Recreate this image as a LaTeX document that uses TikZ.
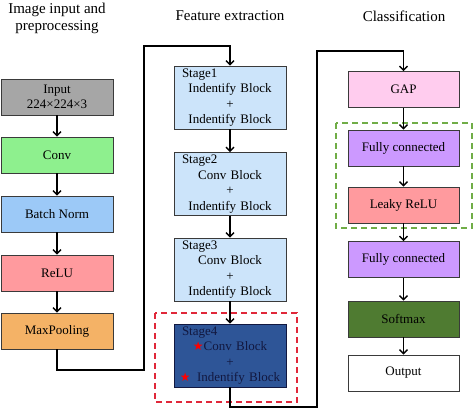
\documentclass[tikz,border=0pt]{standalone}
\usepackage{fontspec}
\setmainfont{Liberation Serif}
\newfontfamily\starfont{DejaVu Sans}
\usetikzlibrary{arrows.meta,positioning}

\definecolor{inputgray}{HTML}{A6A6A6}
\definecolor{convgreen}{HTML}{8EF08E}
\definecolor{normblue}{HTML}{9CC9F7}
\definecolor{relupink}{HTML}{FF9A9E}
\definecolor{poolorange}{HTML}{F4B266}
\definecolor{stageblue}{HTML}{CCE4FA}
\definecolor{darkblue}{HTML}{2E5597}
\definecolor{navytext}{HTML}{121840}
\definecolor{gappink}{HTML}{FFCCEE}
\definecolor{fcpurple}{HTML}{CC99FF}
\definecolor{softgreen}{HTML}{4F7B31}
\definecolor{boxedge}{HTML}{3A3A3A}
\definecolor{dashred}{HTML}{E0283A}
\definecolor{dashgreen}{HTML}{70AD47}

\newcommand{\redstar}{{\starfont\color{red}\fontsize{12}{12}\selectfont ★}}

\tikzstyle{layernode}=[rectangle,
                       draw=boxedge,
                       line width=0.8pt,
                       minimum width=112pt,
                       minimum height=36pt,
                       inner sep=0pt,
                       align=center,
                       font=\fontsize{13}{15.5}\selectfont]
\tikzstyle{stagenode}=[layernode,
                       fill=stageblue,
                       minimum height=63pt,
                       text width=96pt,
                       inner xsep=8pt]
\tikzstyle{headnode}=[align=center,
                      font=\fontsize{15}{17}\selectfont]
\tikzstyle{flow}=[line width=1.4pt,
                  -{Straight Barb[length=4pt,width=8pt]}]

\begin{document}
\begin{tikzpicture}[x=1pt,y=-1pt]
    \useasboundingbox (0,0) rectangle (474,411);
    % headings
    \node [headnode] (hpre) at (57,18) {Image input and\\preprocessing};
    \node [headnode] (hfeat) at (230,16) {Feature extraction};
    \node [headnode] (hcls) at (404,16) {Classification};

    % image input and preprocessing
    \node [layernode, fill=inputgray] (in) at (57,97) {Input\\224×224×3};
    \node [layernode, fill=convgreen] (conv) at (57,155) {Conv};
    \node [layernode, fill=normblue] (bn) at (57,214) {Batch Norm};
    \node [layernode, fill=relupink] (relu) at (57,273) {ReLU};
    \node [layernode, fill=poolorange] (pool) at (57,331) {MaxPooling};

    % feature extraction
    \node [stagenode] (s1) at (230,97.5)
        {\makebox[\hsize][l]{Stage1}\\Indentify Block\\+\\Indentify Block};
    \node [stagenode] (s2) at (230,184)
        {\makebox[\hsize][l]{Stage2}\\Conv Block\\+\\Indentify Block};
    \node [stagenode] (s3) at (230,269.5)
        {\makebox[\hsize][l]{Stage3}\\Conv Block\\+\\Indentify Block};
    \node [stagenode, fill=darkblue, draw=navytext, text=navytext] (s4) at (230,355.5)
        {\makebox[\hsize][l]{Stage4}\\\redstar Conv Block\\+\\\makebox[\hsize][c]{\redstar\enspace Indentify Block}};

    % classification
    \node [layernode, fill=gappink, minimum width=111pt] (gap) at (403.5,89.5) {GAP};
    \node [layernode, fill=fcpurple, minimum width=111pt] (fca) at (403.5,148) {Fully connected};
    \node [layernode, fill=relupink, minimum width=111pt] (lrelu) at (403.5,205) {Leaky ReLU};
    \node [layernode, fill=fcpurple, minimum width=111pt] (fcb) at (403.5,259.5) {Fully connected};
    \node [layernode, fill=softgreen, minimum width=111pt] (soft) at (403.5,319) {Softmax};
    \node [layernode, fill=white, minimum width=111pt] (out) at (403.5,373) {Output};

    % highlight frames
    \draw [dashred, dashed, line width=1.5pt, dash pattern=on 6pt off 4pt] (155,313) rectangle (297,402);
    \draw [dashgreen, dashed, line width=1.5pt, dash pattern=on 6pt off 4pt] (336,123) rectangle (472,228);

    % connectors
    \draw [flow] (in) -- (conv);
    \draw [flow] (conv) -- (bn);
    \draw [flow] (bn) -- (relu);
    \draw [flow] (relu) -- (pool);
    \coordinate (bendA) at (144,46);
    \draw [flow] (pool.south) |- (144,370) -- (bendA) -| (s1.north);
    \draw [flow] (s1) -- (s2);
    \draw [flow] (s2) -- (s3);
    \draw [flow] (s3) -- (s4);
    \coordinate (bendB) at (317,51);
    \draw [flow] (s4.south) |- (317,407) -- (bendB) -| (gap.north);
    \draw [flow] (gap) -- (fca);
    \draw [flow] (fca) -- (lrelu);
    \draw [flow] (lrelu) -- (fcb);
    \draw [flow] (fcb) -- (soft);
    \draw [flow] (soft) -- (out);
\end{tikzpicture}
\end{document}
